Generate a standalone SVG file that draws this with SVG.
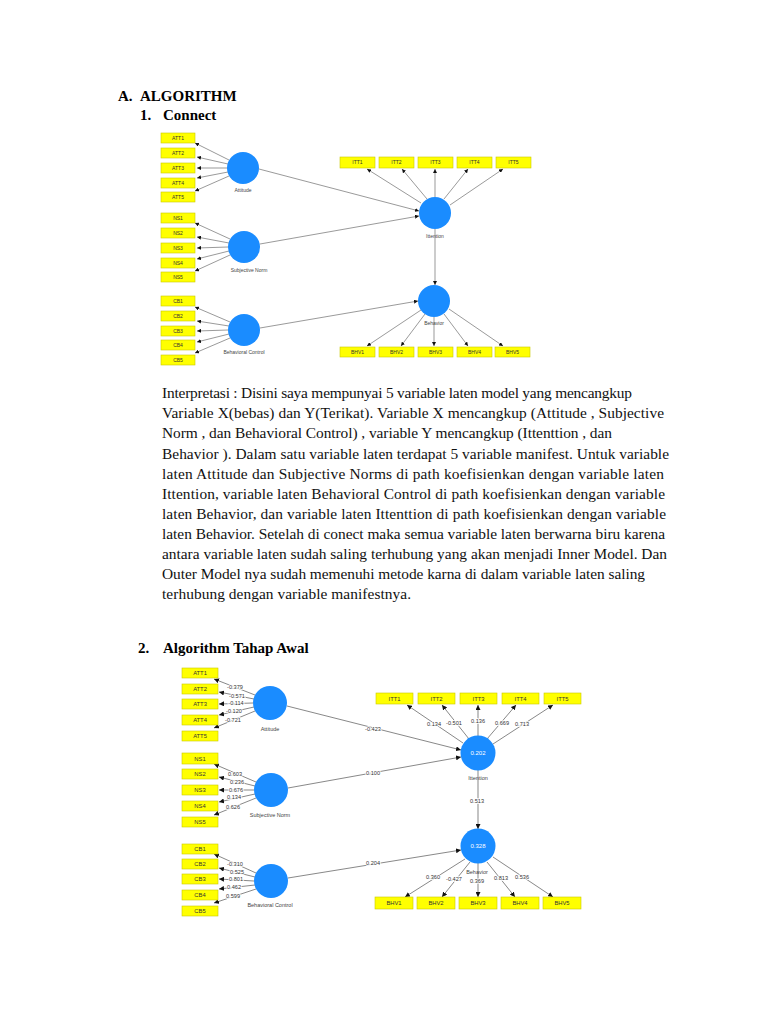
<svg xmlns="http://www.w3.org/2000/svg" width="768" height="1024" viewBox="0 0 768 1024">
<style>
.h{font-family:"Liberation Serif",serif;font-size:15px;font-weight:bold;fill:#000}
.p{font-family:"Liberation Serif",serif;font-size:15.4px;fill:#111}
.box{fill:#ffff00;stroke:#c9c900;stroke-width:0.6}
.lv{fill:#1a8cff}
.t1{font-family:"Liberation Sans",sans-serif;font-size:5px;fill:#333;text-anchor:middle}
.t2{font-family:"Liberation Sans",sans-serif;font-size:5.8px;fill:#333;text-anchor:middle}
.nl1{font-family:"Liberation Sans",sans-serif;font-size:5px;fill:#444;text-anchor:middle}
.nl2{font-family:"Liberation Sans",sans-serif;font-size:5.5px;fill:#444;text-anchor:middle}
.r2{font-family:"Liberation Sans",sans-serif;font-size:6px;fill:#fff;text-anchor:middle}
.c1{stroke:#555;stroke-width:0.6;fill:none;marker-end:url(#a1)}
.c2{stroke:#555;stroke-width:0.7;fill:none;marker-end:url(#a2)}
.lb{font-family:"Liberation Sans",sans-serif;font-size:5.6px;fill:#333;text-anchor:middle;stroke:#fff;stroke-width:1.6;paint-order:stroke}
</style>
<defs>
<marker id="a1" markerUnits="userSpaceOnUse" markerWidth="4" markerHeight="4" refX="4" refY="2" orient="auto"><path d="M0,0 L4,2 L0,4 z" fill="#111"/></marker>
<marker id="a2" markerUnits="userSpaceOnUse" markerWidth="5" markerHeight="5" refX="5" refY="2.5" orient="auto"><path d="M0,0 L5,2.5 L0,5 z" fill="#111"/></marker>
</defs>
<rect width="768" height="1024" fill="#fff"/>

<g id="headings">
<text class="h" x="118" y="101">A.</text><text class="h" x="140" y="101">ALGORITHM</text>
<text class="h" x="140" y="120">1.</text><text class="h" x="163" y="120">Connect</text>
<text class="h" x="138" y="653">2.</text><text class="h" x="163" y="653">Algorithm Tahap Awal</text>
</g>

<g id="paragraph" class="p" xml:space="preserve">
<text x="162" y="398" textLength="470" lengthAdjust="spacing">Interpretasi : Disini saya mempunyai 5 variable laten model yang mencangkup</text>
<text x="162" y="418" textLength="502" lengthAdjust="spacing">Variable X(bebas) dan Y(Terikat). Variable X mencangkup (Attitude , Subjective</text>
<text x="162" y="438" textLength="450" lengthAdjust="spacing">Norm , dan Behavioral Control) , variable Y mencangkup (Ittenttion , dan</text>
<text x="162" y="459" textLength="507" lengthAdjust="spacing">Behavior ). Dalam satu variable laten terdapat 5 variable manifest. Untuk variable</text>
<text x="162" y="479" textLength="502" lengthAdjust="spacing">laten Attitude dan Subjective Norms di path koefisienkan dengan variable laten</text>
<text x="162" y="499" textLength="503" lengthAdjust="spacing">Ittention,  variable laten Behavioral Control di path koefisienkan dengan variable</text>
<text x="162" y="519" textLength="504" lengthAdjust="spacing">laten Behavior, dan variable laten Ittenttion di path koefisienkan dengan variable</text>
<text x="162" y="539" textLength="503" lengthAdjust="spacing">laten Behavior. Setelah di conect maka semua variable laten berwarna biru karena</text>
<text x="162" y="559" textLength="505" lengthAdjust="spacing">antara variable laten sudah saling terhubung yang akan menjadi Inner Model. Dan</text>
<text x="162" y="579" textLength="483" lengthAdjust="spacing">Outer Model nya sudah memenuhi metode karna di dalam variable laten saling</text>
<text x="162" y="599" textLength="249" lengthAdjust="spacing">terhubung dengan variable manifestnya.</text>
</g>

<!-- ===== Diagram 1 ===== -->
<g id="connectors1">
<line class="c1" x1="229" y1="160" x2="195" y2="143"/>
<line class="c1" x1="228" y1="164" x2="197" y2="157"/>
<line class="c1" x1="227" y1="168" x2="197" y2="168"/>
<line class="c1" x1="228" y1="172" x2="197" y2="178"/>
<line class="c1" x1="229" y1="176" x2="195" y2="191"/>
<line class="c1" x1="230" y1="239" x2="195" y2="223"/>
<line class="c1" x1="229" y1="243" x2="197" y2="237"/>
<line class="c1" x1="228" y1="247" x2="197" y2="248"/>
<line class="c1" x1="229" y1="251" x2="197" y2="259"/>
<line class="c1" x1="230" y1="255" x2="195" y2="271"/>
<line class="c1" x1="230" y1="322" x2="195" y2="307"/>
<line class="c1" x1="229" y1="326" x2="197" y2="321"/>
<line class="c1" x1="228" y1="330" x2="197" y2="331"/>
<line class="c1" x1="229" y1="334" x2="197" y2="342"/>
<line class="c1" x1="230" y1="338" x2="195" y2="353"/>
<line class="c1" x1="259" y1="169" x2="419" y2="211"/>
<line class="c1" x1="260" y1="244" x2="419" y2="216"/>
<line class="c1" x1="260" y1="328" x2="418" y2="301"/>
<line class="c1" x1="435" y1="229" x2="435" y2="285"/>
<line class="c1" x1="421" y1="203" x2="367" y2="169"/>
<line class="c1" x1="427" y1="199" x2="402" y2="169"/>
<line class="c1" x1="435" y1="197" x2="435" y2="169"/>
<line class="c1" x1="444" y1="199" x2="468" y2="169"/>
<line class="c1" x1="450" y1="205" x2="503" y2="169"/>
<line class="c1" x1="421" y1="310" x2="367" y2="346"/>
<line class="c1" x1="425" y1="314" x2="401" y2="346"/>
<line class="c1" x1="434" y1="317" x2="434" y2="346"/>
<line class="c1" x1="444" y1="314" x2="468" y2="346"/>
<line class="c1" x1="449" y1="309" x2="503" y2="346"/>
</g>

<g id="d1-att">
<rect class="box" x="161" y="133" width="34" height="10"/><text class="t1" x="178" y="139.8">ATT1</text>
<rect class="box" x="161" y="148" width="34" height="10"/><text class="t1" x="178" y="154.8">ATT2</text>
<rect class="box" x="161" y="163" width="34" height="10"/><text class="t1" x="178" y="169.8">ATT3</text>
<rect class="box" x="161" y="178" width="34" height="10"/><text class="t1" x="178" y="184.8">ATT4</text>
<rect class="box" x="161" y="192" width="34" height="10"/><text class="t1" x="178" y="198.8">ATT5</text>
</g>
<g id="d1-attitude"><circle class="lv" cx="243" cy="168" r="16"/><text class="nl1" x="243" y="192">Attitude</text></g>

<g id="d1-ns">
<rect class="box" x="161" y="213" width="34" height="10"/><text class="t1" x="178" y="219.8">NS1</text>
<rect class="box" x="161" y="228" width="34" height="10"/><text class="t1" x="178" y="234.8">NS2</text>
<rect class="box" x="161" y="243" width="34" height="10"/><text class="t1" x="178" y="249.8">NS3</text>
<rect class="box" x="161" y="258" width="34" height="10"/><text class="t1" x="178" y="264.8">NS4</text>
<rect class="box" x="161" y="272" width="34" height="10"/><text class="t1" x="178" y="278.8">NS5</text>
</g>
<g id="d1-subjective"><circle class="lv" cx="244" cy="247" r="16"/><text class="nl1" x="249" y="272">Subjective Norm</text></g>

<g id="d1-cb">
<rect class="box" x="161" y="296" width="34" height="10"/><text class="t1" x="178" y="302.8">CB1</text>
<rect class="box" x="161" y="311" width="34" height="10"/><text class="t1" x="178" y="317.8">CB2</text>
<rect class="box" x="161" y="326" width="34" height="10"/><text class="t1" x="178" y="332.8">CB3</text>
<rect class="box" x="161" y="340" width="34" height="10"/><text class="t1" x="178" y="346.8">CB4</text>
<rect class="box" x="161" y="355" width="34" height="10"/><text class="t1" x="178" y="361.8">CB5</text>
</g>
<g id="d1-behavioral"><circle class="lv" cx="244" cy="330" r="16"/><text class="nl1" x="244" y="354">Behavioral Control</text></g>

<g id="d1-itt">
<rect class="box" x="340" y="157" width="35" height="11"/><text class="t1" x="357.5" y="164.3">ITT1</text>
<rect class="box" x="379" y="157" width="35" height="11"/><text class="t1" x="396.5" y="164.3">ITT2</text>
<rect class="box" x="418" y="157" width="35" height="11"/><text class="t1" x="435.5" y="164.3">ITT3</text>
<rect class="box" x="457" y="157" width="35" height="11"/><text class="t1" x="474.5" y="164.3">ITT4</text>
<rect class="box" x="496" y="157" width="35" height="11"/><text class="t1" x="513.5" y="164.3">ITT5</text>
</g>
<g id="d1-ittention"><circle class="lv" cx="435" cy="213" r="16"/><text class="nl1" x="435" y="238">Ittention</text></g>

<g id="d1-behavior"><circle class="lv" cx="434" cy="301" r="16"/><text class="nl1" x="434" y="325">Behavior</text></g>
<g id="d1-bhv">
<rect class="box" x="340" y="347" width="35" height="10"/><text class="t1" x="357.5" y="353.8">BHV1</text>
<rect class="box" x="379" y="347" width="35" height="10"/><text class="t1" x="396.5" y="353.8">BHV2</text>
<rect class="box" x="418" y="347" width="35" height="10"/><text class="t1" x="435.5" y="353.8">BHV3</text>
<rect class="box" x="457" y="347" width="35" height="10"/><text class="t1" x="474.5" y="353.8">BHV4</text>
<rect class="box" x="495" y="347" width="35" height="10"/><text class="t1" x="512.5" y="353.8">BHV5</text>
</g>

<!-- ===== Diagram 2 ===== -->
<g id="connectors2">
<line class="c2" x1="255" y1="695" x2="214" y2="679"/>
<line class="c2" x1="254" y1="699" x2="219" y2="692"/>
<line class="c2" x1="253" y1="703" x2="219" y2="704"/>
<line class="c2" x1="254" y1="707" x2="219" y2="715"/>
<line class="c2" x1="255" y1="711" x2="214" y2="728"/>
<line class="c2" x1="256" y1="782" x2="214" y2="764"/>
<line class="c2" x1="255" y1="786" x2="219" y2="777"/>
<line class="c2" x1="254" y1="790" x2="219" y2="790"/>
<line class="c2" x1="255" y1="794" x2="219" y2="802"/>
<line class="c2" x1="256" y1="798" x2="214" y2="815"/>
<line class="c2" x1="256" y1="873" x2="214" y2="854"/>
<line class="c2" x1="255" y1="877" x2="219" y2="868"/>
<line class="c2" x1="254" y1="881" x2="219" y2="879"/>
<line class="c2" x1="255" y1="885" x2="219" y2="889"/>
<line class="c2" x1="256" y1="889" x2="214" y2="903"/>
<line class="c2" x1="287" y1="706" x2="461" y2="750"/>
<line class="c2" x1="288" y1="788" x2="461" y2="757"/>
<line class="c2" x1="288" y1="878" x2="461" y2="850"/>
<line class="c2" x1="478" y1="770" x2="478" y2="829"/>
<line class="c2" x1="463" y1="743" x2="407" y2="705"/>
<line class="c2" x1="469" y1="739" x2="442" y2="705"/>
<line class="c2" x1="478" y1="736" x2="478" y2="705"/>
<line class="c2" x1="487" y1="739" x2="516" y2="705"/>
<line class="c2" x1="493" y1="744" x2="553" y2="705"/>
<line class="c2" x1="465" y1="859" x2="405" y2="897"/>
<line class="c2" x1="470" y1="862" x2="442" y2="897"/>
<line class="c2" x1="478" y1="863" x2="478" y2="897"/>
<line class="c2" x1="487" y1="862" x2="515" y2="897"/>
<line class="c2" x1="493" y1="857" x2="553" y2="897"/>
</g>

<g id="connector-labels2">
<text class="lb" x="235" y="689">-0.379</text>
<text class="lb" x="237" y="698">-0.571</text>
<text class="lb" x="236" y="705">-0.114</text>
<text class="lb" x="234" y="713">-0.120</text>
<text class="lb" x="233" y="722">-0.721</text>
<text class="lb" x="235" y="776">0.603</text>
<text class="lb" x="237" y="784">0.236</text>
<text class="lb" x="236" y="792">0.676</text>
<text class="lb" x="234" y="799">0.134</text>
<text class="lb" x="233" y="809">0.626</text>
<text class="lb" x="235" y="866">-0.310</text>
<text class="lb" x="237" y="874">0.525</text>
<text class="lb" x="236" y="881">0.801</text>
<text class="lb" x="234" y="889">0.462</text>
<text class="lb" x="233" y="898">0.599</text>
<text class="lb" x="373" y="731">-0.423</text>
<text class="lb" x="373" y="775">0.100</text>
<text class="lb" x="373" y="865">0.204</text>
<text class="lb" x="477" y="803">0.513</text>
<text class="lb" x="434" y="726">0.134</text>
<text class="lb" x="454" y="725">-0.501</text>
<text class="lb" x="478" y="723">0.136</text>
<text class="lb" x="502" y="725">0.669</text>
<text class="lb" x="522" y="726">0.713</text>
<text class="lb" x="433" y="879">0.360</text>
<text class="lb" x="454" y="881">-0.427</text>
<text class="lb" x="477" y="883">0.369</text>
<text class="lb" x="501" y="880">0.813</text>
<text class="lb" x="522" y="879">0.536</text>
</g>

<g id="d2-att">
<rect class="box" x="182" y="668" width="36" height="10"/><text class="t2" x="200" y="675">ATT1</text>
<rect class="box" x="182" y="684" width="36" height="10"/><text class="t2" x="200" y="691">ATT2</text>
<rect class="box" x="182" y="699" width="36" height="10"/><text class="t2" x="200" y="706">ATT3</text>
<rect class="box" x="182" y="715" width="36" height="10"/><text class="t2" x="200" y="722">ATT4</text>
<rect class="box" x="182" y="731" width="36" height="10"/><text class="t2" x="200" y="738">ATT5</text>
</g>
<g id="d2-attitude"><circle class="lv" cx="270" cy="703" r="17"/><text class="nl2" x="270" y="731">Attitude</text></g>

<g id="d2-ns">
<rect class="box" x="182" y="753" width="36" height="11"/><text class="t2" x="200" y="760.5">NS1</text>
<rect class="box" x="182" y="769" width="36" height="10"/><text class="t2" x="200" y="776">NS2</text>
<rect class="box" x="182" y="785" width="36" height="10"/><text class="t2" x="200" y="792">NS3</text>
<rect class="box" x="182" y="801" width="36" height="10"/><text class="t2" x="200" y="808">NS4</text>
<rect class="box" x="182" y="817" width="36" height="10"/><text class="t2" x="200" y="824">NS5</text>
</g>
<g id="d2-subjective"><circle class="lv" cx="271" cy="790" r="17"/><text class="nl2" x="270" y="817">Subjective Norm</text></g>

<g id="d2-cb">
<rect class="box" x="182" y="844" width="36" height="10"/><text class="t2" x="200" y="851">CB1</text>
<rect class="box" x="182" y="859" width="36" height="10"/><text class="t2" x="200" y="866">CB2</text>
<rect class="box" x="182" y="874" width="36" height="10"/><text class="t2" x="200" y="881">CB3</text>
<rect class="box" x="182" y="890" width="36" height="10"/><text class="t2" x="200" y="897">CB4</text>
<rect class="box" x="182" y="906" width="36" height="10"/><text class="t2" x="200" y="913">CB5</text>
</g>
<g id="d2-behavioral"><circle class="lv" cx="271" cy="881" r="17"/><text class="nl2" x="270" y="907">Behavioral Control</text></g>

<g id="d2-itt">
<rect class="box" x="376" y="693" width="37" height="11"/><text class="t2" x="394.5" y="700.5">ITT1</text>
<rect class="box" x="418" y="693" width="37" height="11"/><text class="t2" x="436.5" y="700.5">ITT2</text>
<rect class="box" x="460" y="693" width="37" height="11"/><text class="t2" x="478.5" y="700.5">ITT3</text>
<rect class="box" x="502" y="693" width="37" height="11"/><text class="t2" x="520.5" y="700.5">ITT4</text>
<rect class="box" x="544" y="693" width="37" height="11"/><text class="t2" x="562.5" y="700.5">ITT5</text>
</g>
<g id="d2-ittention"><circle class="lv" cx="478" cy="753" r="17.5"/><text class="r2" x="478" y="755">0.202</text><text class="nl2" x="478" y="780">Ittention</text></g>

<g id="d2-behavior"><circle class="lv" cx="478" cy="846" r="17.5"/><text class="r2" x="478" y="848">0.328</text><text class="nl2" x="477" y="874">Behavior</text></g>
<g id="d2-bhv">
<rect class="box" x="375" y="897" width="38" height="12"/><text class="t2" x="394" y="905">BHV1</text>
<rect class="box" x="417" y="897" width="38" height="12"/><text class="t2" x="436" y="905">BHV2</text>
<rect class="box" x="459" y="897" width="38" height="12"/><text class="t2" x="478" y="905">BHV3</text>
<rect class="box" x="501" y="897" width="38" height="12"/><text class="t2" x="520" y="905">BHV4</text>
<rect class="box" x="543" y="897" width="38" height="12"/><text class="t2" x="562" y="905">BHV5</text>
</g>
</svg>
